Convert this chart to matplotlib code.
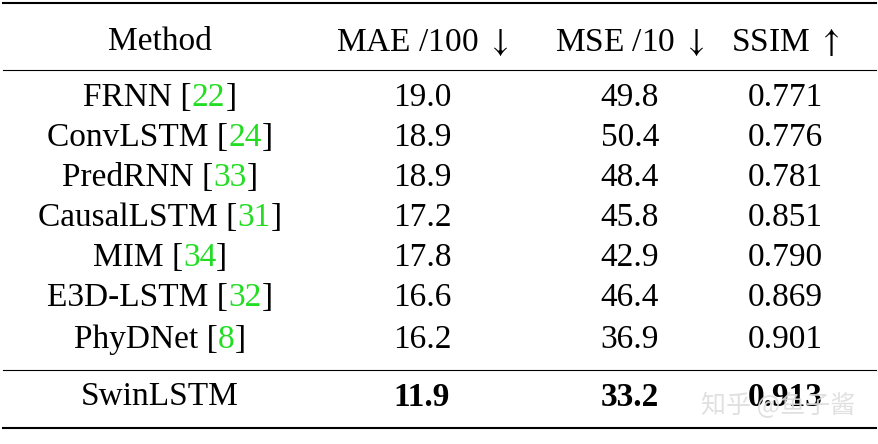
import matplotlib
matplotlib.use("Agg")
import matplotlib.pyplot as plt

methods = ["FRNN", "ConvLSTM", "PredRNN", "CausalLSTM", "MIM", "E3D-LSTM", "PhyDNet"]
refs = ["22", "24", "33", "31", "34", "32", "8"]
mae = ["19.0", "18.9", "18.9", "17.2", "17.8", "16.6", "16.2"]
mse = ["49.8", "50.4", "48.4", "45.8", "42.9", "46.4", "36.9"]
ssim = ["0.771", "0.776", "0.781", "0.851", "0.790", "0.869", "0.901"]
ours = ["SwinLSTM", "11.9", "33.2", "0.913"]
headers = ["Method", "MAE /100 $\\downarrow$", "MSE /10 $\\downarrow$", "SSIM $\\uparrow$"]

W, H = 879, 444
fig = plt.figure(figsize=(W / 100, H / 100), dpi=100)
ax = fig.add_axes([0, 0, 1, 1])
ax.set_xlim(0, W)
ax.set_ylim(H, 0)
ax.axis("off")

plt.rcParams["mathtext.fontset"] = "stix"
fs = 24
serif = "Liberation Serif"
cols = [160, 422, 630, 785]
green = "#22dd22"

for x, h in zip(cols, headers):
    ax.text(x, 42, h, ha="center", va="center", fontsize=fs, family=serif)

renderer = fig.canvas.get_renderer()


def width(s):
    t = ax.text(0, 0, s, fontsize=fs, family=serif)
    w = t.get_window_extent(renderer).width
    t.remove()
    return w


ys = [98, 138, 178, 218, 258, 298, 340]
for i, y in enumerate(ys):
    p1 = methods[i] + " ["
    w1, w2, w3 = width(p1), width(refs[i]), width("]")
    x0 = cols[0] - (w1 + w2 + w3) / 2
    ax.text(x0, y, p1, ha="left", va="center", fontsize=fs, family=serif)
    ax.text(x0 + w1, y, refs[i], ha="left", va="center", fontsize=fs, family=serif, color=green)
    ax.text(x0 + w1 + w2, y, "]", ha="left", va="center", fontsize=fs, family=serif)
    for x, v in zip(cols[1:], [mae[i], mse[i], ssim[i]]):
        ax.text(x, y, v, ha="center", va="center", fontsize=fs, family=serif)

for j, (x, v) in enumerate(zip(cols, ours)):
    ax.text(x, 397, v, ha="center", va="center", fontsize=fs, family=serif,
            weight="normal" if j == 0 else "bold")

ax.plot([3, 876], [3, 3], color="black", lw=1.5)
ax.plot([3, 876], [70, 70], color="black", lw=0.8)
ax.plot([3, 876], [370, 370], color="black", lw=0.8)
ax.plot([3, 876], [428, 428], color="black", lw=1.5)

ax.text(778, 406, "知乎 @鱼子酱", ha="center", va="center", fontsize=18,
        family=["Noto Sans CJK SC", "DejaVu Sans"], color="#dddddd", alpha=0.9)

fig.savefig("out.png", dpi=100)
